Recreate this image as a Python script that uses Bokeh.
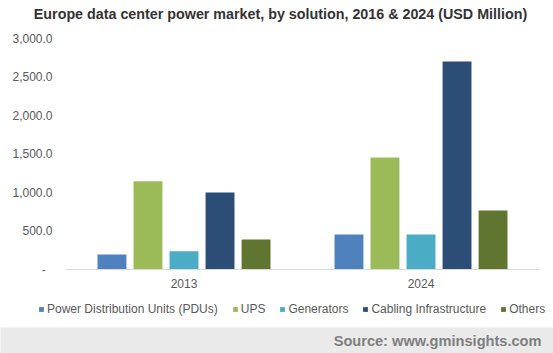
from bokeh.plotting import figure
from bokeh.models import (ColumnDataSource, FactorRange, Legend, LegendItem, FixedTicker,
                          NumeralTickFormatter, Range1d, Label)
from bokeh.transform import dodge
from bokeh.layouts import column
from bokeh.embed import file_html
from bokeh.resources import INLINE

# ---- data ----
years = ["2013", "2024"]
solutions = ["Power Distribution Units (PDUs)", "UPS", "Generators",
             "Cabling Infrastructure", "Others"]
pdus = [195, 455]
ups = [1145, 1455]
generators = [238, 455]
cabling = [1000, 2700]
others = [390, 766]
y_ticks = [0, 500, 1000, 1500, 2000, 2500, 3000]

colors = ["#4F81BD", "#9BBB59", "#4BACC6", "#2C4D75", "#5F7530"]
series = [pdus, ups, generators, cabling, others]

TITLE = "Europe data center power market, by solution, 2016 & 2024 (USD Million)"
SOURCE = "Source: www.gminsights.com"
FONT = "Liberation Sans"
LABEL_COLOR = "#595959"


def strip(height, fill=None):
    s = figure(width=553, height=height, x_range=Range1d(0, 553), y_range=Range1d(0, height),
               x_axis_type=None, y_axis_type=None, output_backend="svg",
               toolbar_location=None, min_border=0, outline_line_color=None,
               frame_align=False)
    s.xgrid.grid_line_color = None
    s.ygrid.grid_line_color = None
    if fill:
        s.background_fill_color = fill
        s.border_fill_color = fill
    return s


# ---- header ----
hd = strip(26)
hd.add_layout(Label(x=280, y=13, text=TITLE, text_align="center", text_baseline="middle",
                    text_font=FONT, text_font_size="14.3px", text_font_style="bold",
                    text_color="#333333"))

# ---- main chart ----
p = figure(width=553, height=269, x_range=FactorRange(*years), y_range=Range1d(0, 3000),
           output_backend="svg", toolbar_location=None, frame_align=False,
           min_border_left=65, min_border_right=14, min_border_top=12, min_border_bottom=26)

offsets = [-0.304, -0.152, 0.0, 0.152, 0.304]
for name, vals, col, off in zip(solutions, series, colors, offsets):
    src = ColumnDataSource(dict(year=years, value=vals))
    p.vbar(x=dodge("year", off, range=p.x_range), top="value", width=0.122,
           source=src, fill_color=col, line_color=None)

p.xgrid.grid_line_color = None
p.ygrid.grid_line_color = None
p.outline_line_color = None

p.xaxis.axis_line_color = "#d9d9d9"
p.xaxis.major_tick_line_color = None
p.xaxis.minor_tick_line_color = None
p.xaxis.major_tick_out = 0
p.xaxis.major_tick_in = 0
p.xaxis.major_label_text_font = FONT
p.xaxis.major_label_text_font_size = "12px"
p.xaxis.major_label_text_color = LABEL_COLOR
p.xaxis.major_label_standoff = 9

p.yaxis.ticker = FixedTicker(ticks=y_ticks)
p.yaxis.formatter = NumeralTickFormatter(format="0,0.0")
p.yaxis.major_label_overrides = {0: "-\u00a0\u00a0"}
p.yaxis.axis_line_color = None
p.yaxis.major_tick_line_color = None
p.yaxis.minor_tick_line_color = None
p.yaxis.major_tick_out = 0
p.yaxis.major_tick_in = 0
p.yaxis.major_label_text_font = FONT
p.yaxis.major_label_text_font_size = "12px"
p.yaxis.major_label_text_color = LABEL_COLOR
p.yaxis.major_label_standoff = 13

# ---- legend strip ----
lg = strip(32)
items = []
for name, col in zip(solutions, colors):
    # zero-height proxy glyph: only provides the legend swatch
    r = lg.vbar(x=[0], top=[0], bottom=[0], width=0.0, fill_color=col, line_color=None)
    items.append(LegendItem(label=name, renderers=[r]))
legend = Legend(items=items, orientation="horizontal", location=(38, 11),
                glyph_width=6, glyph_height=6, label_standoff=3, spacing=14,
                label_text_font=FONT, label_text_font_size="12px",
                label_text_color=LABEL_COLOR, border_line_color=None,
                background_fill_alpha=0, padding=0, margin=0, label_height=14)
lg.add_layout(legend)

# ---- footer band ----
f = strip(26, fill="#EAEAEA")
f.add_layout(Label(x=541, y=13, text=SOURCE, text_align="right",
                   text_baseline="middle", text_font=FONT, text_font_size="14.6px",
                   text_font_style="bold", text_color="#7F7F7F"))

layout = column(hd, p, lg, f, spacing=0)
open("out.html", "w").write(file_html(layout, INLINE))
